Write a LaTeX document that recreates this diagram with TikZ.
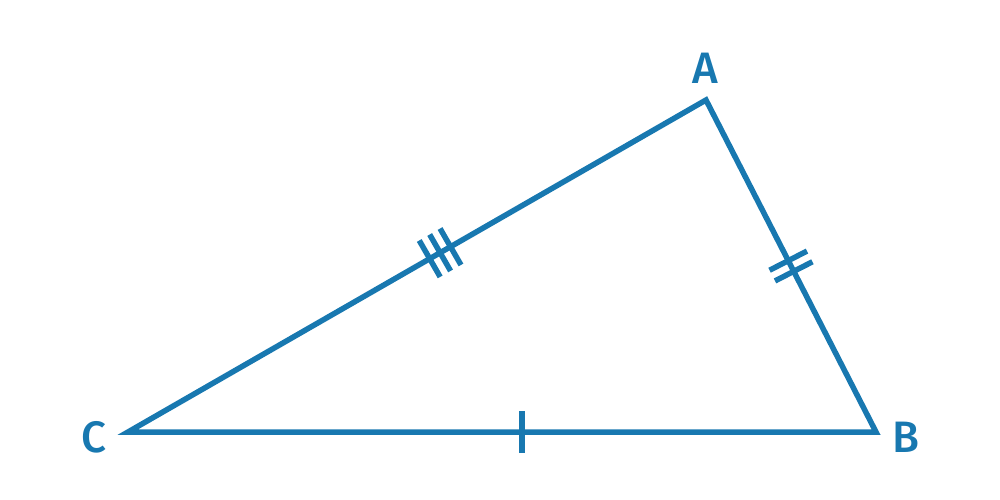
\documentclass[tikz,border=0pt]{standalone}
\usepackage{fontspec}
\setmainfont{Fira Sans}[UprightFont=* Medium]
\usetikzlibrary{calc}
\definecolor{tri}{HTML}{1878B0}
\begin{document}
\begin{tikzpicture}[x=1pt,y=-1pt,
  side/.style={draw=tri,line width=5.5pt,line join=miter},
  tick/.style={draw=tri,line width=5.5pt},
  lbl/.style={text=tri,font=\fontsize{44}{44}\selectfont}]
\useasboundingbox (0,0) rectangle (1000,500);
\coordinate (A) at (706,100);
\coordinate (B) at (876,432);
\coordinate (C) at (128,432);
\draw[side] (C) -- (A) -- (B) -- cycle;
\node[lbl] (la) at (705,68) {A};
\node[lbl] (lb) at (906,437) {B};
\node[lbl] (lc) at (94,437) {C};
% single tick on CB
\coordinate (m1) at (522,432);
\draw[tick] ($(m1)!21pt!90:(B)$) -- ($(m1)!21pt!-90:(B)$);
% double tick on AB
\coordinate (m2) at ($(A)!0.5!(B)$);
\foreach \d in {-6,6}{
  \coordinate (p) at ($(m2)!\d pt!(B)$);
  \draw[tick] ($(p)!21pt!90:(B)$) -- ($(p)!21pt!-90:(B)$);
}
% triple tick on CA
\coordinate (m3) at ($(C)!0.54!(A)$);
\foreach \d in {-12,0,12}{
  \coordinate (p) at ($(m3)!\d pt!(A)$);
  \draw[tick] ($(p)!21pt!90:(A)$) -- ($(p)!21pt!-90:(A)$);
}
\end{tikzpicture}
\end{document}
